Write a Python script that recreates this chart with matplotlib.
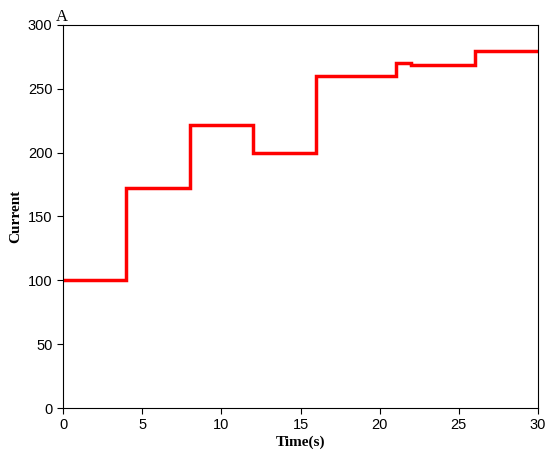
import matplotlib
matplotlib.use("Agg")
import matplotlib.pyplot as plt

edges = [0, 4, 8, 12, 16, 21, 22, 26, 30]
values = [100, 172, 222, 200, 260, 270, 269, 280]

fig = plt.figure(figsize=(5.5, 4.68), dpi=100)
ax = fig.add_axes([63/550, 1-408/468, (538-63)/550, (408-25)/468])
ax.stairs(values, edges, color='#ff0000', linewidth=2.5, baseline=None)
ax.set_xlim(0, 30)
ax.set_ylim(0, 300)
ax.set_xticks([0, 5, 10, 15, 20, 25, 30])
ax.set_yticks(range(0, 301, 50))
ax.tick_params(direction='out', length=4, labelsize=10.5)
for l in ax.get_xticklabels() + ax.get_yticklabels():
    l.set_family('Liberation Sans')
ax.set_xlabel('Time(s)', family='Liberation Serif', fontsize=11, fontweight='bold', labelpad=2)
ax.set_ylabel('Current', family='Liberation Serif', fontsize=11, fontweight='bold', labelpad=4)
ax.text(-0.015, 1.0, 'A', transform=ax.transAxes, family='Liberation Serif', fontsize=12, ha='left', va='bottom')
fig.savefig('out.png', dpi=100)
